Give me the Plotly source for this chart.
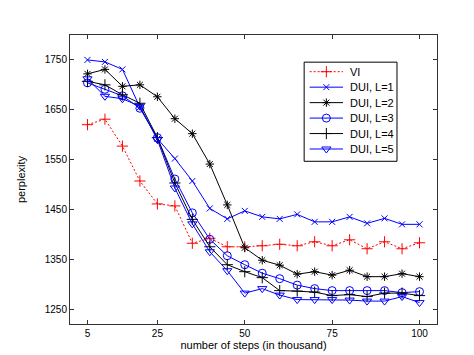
import plotly.graph_objects as go

steps = [5, 10, 15, 20, 25, 30, 35, 40, 45, 50, 55, 60, 65, 70, 75, 80, 85, 90, 95, 100]

vi = [1620, 1631, 1577, 1507, 1461, 1457, 1382, 1392, 1375, 1375,
      1377, 1380, 1377, 1385, 1377, 1389, 1371, 1385, 1371, 1383]
dui_l1 = [1750, 1746, 1731, 1655, 1592, 1552, 1507, 1452, 1431, 1447,
          1435, 1431, 1440, 1425, 1425, 1435, 1422, 1432, 1420, 1420]
dui_l2 = [1722, 1731, 1697, 1700, 1676, 1632, 1602, 1541, 1459, 1373,
          1348, 1338, 1320, 1325, 1318, 1328, 1315, 1315, 1321, 1315]
dui_l3 = [1704, 1691, 1678, 1653, 1594, 1511, 1443, 1390, 1357, 1339,
          1322, 1311, 1298, 1291, 1287, 1287, 1287, 1287, 1283, 1285]
dui_l4 = [1707, 1700, 1680, 1663, 1594, 1503, 1430, 1375, 1339, 1325,
          1313, 1287, 1286, 1284, 1277, 1279, 1275, 1282, 1282, 1277]
dui_l5 = [1712, 1677, 1672, 1657, 1590, 1493, 1421, 1365, 1327, 1282,
          1291, 1278, 1269, 1269, 1269, 1268, 1266, 1266, 1275, 1263]

names = ["VI", "DUI, L=1", "DUI, L=2", "DUI, L=3", "DUI, L=4", "DUI, L=5"]
xticks = [5, 25, 50, 75, 100]
yticks = [1250, 1350, 1450, 1550, 1650, 1750]

BLUE = "#0000ff"
RED = "#ff0000"
BLACK = "#000000"
FONT = "Liberation Sans, Arial"

styles = [
    dict(color=RED, dash="2px,2px", symbol="cross-thin-open", size=8),
    dict(color=BLUE, dash="solid", symbol="x-thin-open", size=6),
    dict(color=BLACK, dash="solid", symbol="asterisk-open", size=7),
    dict(color=BLUE, dash="solid", symbol="circle-open", size=8),
    dict(color=BLACK, dash="solid", symbol="cross-thin-open", size=8),
    dict(color=BLUE, dash="solid", symbol="triangle-down-open", size=8),
]
series = [vi, dui_l1, dui_l2, dui_l3, dui_l4, dui_l5]

fig = go.Figure()
for name, ys, st in zip(names, series, styles):
    fig.add_trace(go.Scatter(
        x=steps, y=ys, name=name, mode="lines+markers", showlegend=False,
        line=dict(color=st["color"], width=1, dash=st["dash"]),
        marker=dict(symbol=st["symbol"], size=st["size"], color=st["color"],
                    line=dict(color=st["color"], width=1)),
    ))

# MATLAB-style legend box (drawn on an overlaid unit axis, 0..1 = plot area)
leg_x0, leg_x1, leg_top, leg_bot = 0.638, 0.891, 0.906, 0.563
row_y0, row_dy = 0.873, -0.0535
samp_x0, samp_x1, text_x = 0.653, 0.744, 0.758

fig.add_shape(type="rect", xref="paper", yref="paper",
              x0=leg_x0, x1=leg_x1, y0=leg_bot, y1=leg_top,
              line=dict(color="#000000", width=1), fillcolor="white", layer="below")
for i, (name, st) in enumerate(zip(names, styles)):
    yy = row_y0 + i * row_dy
    fig.add_trace(go.Scatter(
        x=[samp_x0, (samp_x0 + samp_x1) / 2, samp_x1], y=[yy, yy, yy],
        xaxis="x2", yaxis="y2", mode="lines", showlegend=False, hoverinfo="skip",
        line=dict(color=st["color"], width=1, dash=st["dash"]),
    ))
    fig.add_trace(go.Scatter(
        x=[(samp_x0 + samp_x1) / 2], y=[yy],
        xaxis="x2", yaxis="y2", mode="markers", showlegend=False, hoverinfo="skip",
        marker=dict(symbol=st["symbol"], size=st["size"], color=st["color"],
                    line=dict(color=st["color"], width=1)),
    ))
    fig.add_annotation(x=text_x, y=yy, xref="paper", yref="paper", text=name,
                       showarrow=False, xanchor="left", yanchor="middle",
                       font=dict(family=FONT, size=11, color="#000000"))

axis_common = dict(
    showgrid=False, zeroline=False, showline=True, linecolor="#333333", linewidth=1,
    mirror="ticks", ticks="inside", ticklen=4, tickcolor="#333333", tickwidth=1,
    tickfont=dict(family=FONT, size=10, color="#000000"),
)

fig.update_layout(
    width=474, height=355,
    paper_bgcolor="white", plot_bgcolor="white",
    margin=dict(l=62, r=45, t=27, b=39, autoexpand=False),
    font=dict(family=FONT, size=11, color="#000000"),
    xaxis=dict(range=[0, 105], tickvals=xticks, ticktext=[str(v) for v in xticks],
               title=dict(text="number of steps (in thousand)", standoff=0,
                          font=dict(size=11)),
               **axis_common),
    yaxis=dict(range=[1220, 1800], tickvals=yticks, ticktext=[str(v) for v in yticks],
               title=dict(text="perplexity", standoff=16, font=dict(size=11)),
               **axis_common),
    xaxis2=dict(range=[0, 1], overlaying="x", visible=False, fixedrange=True),
    yaxis2=dict(range=[0, 1], overlaying="y", visible=False, fixedrange=True),
    showlegend=False,
)

fig.write_html("out.html")
